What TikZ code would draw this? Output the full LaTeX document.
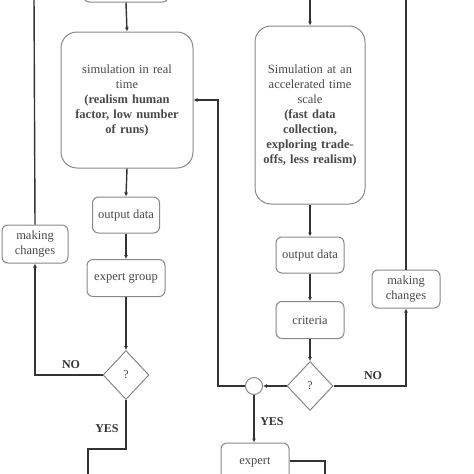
\documentclass[tikz,border=0pt]{standalone}
\usepackage{fontspec}
\setmainfont{Liberation Serif}
\usetikzlibrary{shapes.geometric,arrows.meta}
\definecolor{ln}{HTML}{333333}
\definecolor{bd}{HTML}{888888}
\definecolor{tx}{HTML}{4a4a4a}
\tikzset{
  box/.style={draw=bd,line width=1pt,rounded corners=6pt,fill=white,text=tx,align=center,font=\fontsize{12.5}{15}\selectfont,inner sep=2pt},
  bigbox/.style={box,rounded corners=16pt},
  dec/.style={draw=bd,line width=1pt,diamond,aspect=0.92,minimum width=46pt,minimum height=49pt,inner sep=0pt,text=tx,font=\fontsize{12}{13}\selectfont,fill=white},
  junc/.style={draw=bd,line width=1pt,circle,minimum size=17pt,inner sep=0pt,fill=white},
  flow/.style={draw=ln,line width=1.4pt},
  arr/.style={flow,-{Latex[length=4pt,width=4pt]}},
  lab/.style={text=ln,font=\bfseries\fontsize{12}{13}\selectfont,inner sep=0pt}
}
\begin{document}
\begin{tikzpicture}[x=1pt,y=-1pt]
\useasboundingbox (0,0) rectangle (474,474);
\clip (0,0) rectangle (474,474);
% nodes
\node[box,minimum width=85pt,minimum height=22pt] (top) at (126,-9) {};
\node[bigbox,minimum width=132pt,minimum height=136pt,text width=124pt] (simR) at (127,100)
  {simulation in real\\time\\\textbf{(realism human}\\\textbf{factor, low number}\\\textbf{of runs)}};
\node[bigbox,minimum width=110pt,minimum height=178pt,text width=106pt] (simA) at (310,115)
  {Simulation at an\\accelerated time\\scale\\\textbf{(fast data}\\\textbf{collection,}\\\textbf{exploring trade-}\\\textbf{offs, less realism)}};
\node[box,minimum width=67pt,minimum height=36pt] (outL) at (126,215) {output data};
\node[box,minimum width=78pt,minimum height=37pt] (expG) at (126,278) {expert group};
\node[dec] (decL) at (126,375) {?};
\node[box,minimum width=66pt,minimum height=38pt] (mcL) at (35,244) {making\\changes};
\node[box,minimum width=68pt,minimum height=36pt] (outR) at (310,255) {output data};
\node[box,minimum width=68pt,minimum height=37pt] (crit) at (310,320) {criteria};
\node[dec] (decR) at (310,386) {?};
\node[box,minimum width=68pt,minimum height=38pt] (mcR) at (406,289) {making\\changes};
\node[junc] (jn) at (254,386) {};
\node[box,minimum width=68pt,minimum height=38pt] (expt) at (255,462) {expert};
% free ends
\coordinate (tl) at (34,-5);
\coordinate (tr) at (406,-5);
\coordinate (ta) at (310,-5);
\coordinate (yl) at (88,480);
\coordinate (ye) at (325,480);
% connectors
\draw[arr] (top.south) -- (simR.north);
\draw[arr] (ta) -- (simA.north);
\draw[arr] (simR.south) -- (outL.north);
\draw[arr] (outL.south) -- (expG.north);
\draw[arr] (expG.south) -- (decL.north);
\draw[arr] (decL.west) -| (mcL.south);
\draw[flow] (mcL.north) -- (tl);
\draw[flow] (decL.south) |- (107,449) -| (yl);
\draw[arr] (simA.south) -- (outR.north);
\draw[arr] (outR.south) -- (crit.north);
\draw[arr] (crit.south) -- (decR.north);
\draw[arr] (decR.west) -- (jn.east);
\draw[arr] (decR.east) -| (mcR.south);
\draw[flow] (mcR.north) -- (tr);
\draw[arr] (jn.west) -| (218,100) -- (simR.east |- 0,100);
\draw[arr] (jn.south) -- (expt.north -| jn.south);
\draw[flow] (expt.east |- 0,461) -| (ye);
% labels
\node[lab] at (71,365) {NO};
\node[lab] at (107,429) {YES};
\node[lab] at (373,376) {NO};
\node[lab] at (272,422) {YES};
\end{tikzpicture}
\end{document}
